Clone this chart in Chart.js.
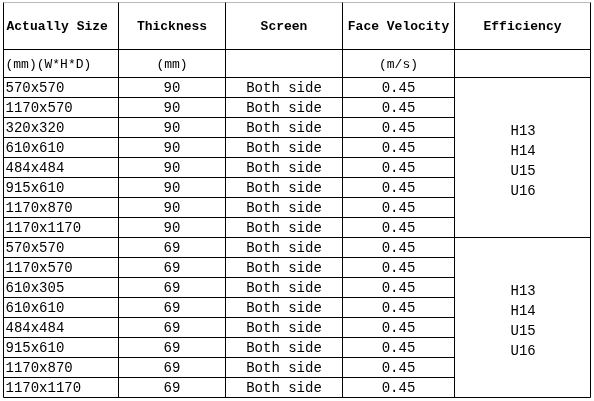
<!DOCTYPE html>
<html>
<head>
<script src="https://cdn.jsdelivr.net/npm/chart.js@4"></script>
<style>
  body { margin: 0; background: #fff; }
  #wrap { width: 594px; height: 401px; }
</style>
</head>
<body>
<div id="wrap"><canvas id="tbl"></canvas></div>
<script>
const headers = ["Actually Size", "Thickness", "Screen", "Face Velocity", "Efficiency"];
const units = ["(mm)(W*H*D)", "(mm)", "", "(m/s)", ""];
const sizes = ["570x570", "1170x570", "320x320", "610x610", "484x484", "915x610", "1170x870", "1170x1170",
  "570x570", "1170x570", "610x305", "610x610", "484x484", "915x610", "1170x870", "1170x1170"];
const thickness = [90, 90, 90, 90, 90, 90, 90, 90, 69, 69, 69, 69, 69, 69, 69, 69];
const screens = sizes.map(() => "Both side");
const velocity = sizes.map(() => "0.45");
const efficiency = ["H13", "H14", "U15", "U16"];

// layout in page pixels
const colX = [3, 118, 225, 342, 454, 590];
const rowY = [2, 49, 77];
for (let i = 1; i <= sizes.length; i++) rowY.push(77 + i * 20);

const tablePlugin = {
  id: "table",
  afterDraw(chart) {
    const ctx = chart.ctx, sx = chart.scales.x, sy = chart.scales.y;
    const X = v => Math.round(sx.getPixelForValue(v)) + 0.5;
    const Y = v => Math.round(sy.getPixelForValue(v)) + 0.5;
    ctx.save();
    ctx.strokeStyle = "#000";
    ctx.lineWidth = 1;
    const line = (x1, y1, x2, y2) => { ctx.beginPath(); ctx.moveTo(X(x1), Y(y1)); ctx.lineTo(X(x2), Y(y2)); ctx.stroke(); };
    // horizontal lines
    rowY.forEach((y, i) => {
      if (i === 0) return;
      const inGroup = i > 2 && i !== 10 && i < rowY.length - 1;
      line(colX[0], y, inGroup ? colX[4] : colX[5], y);
    });
    ctx.strokeStyle = "#bbb";
    line(colX[0], rowY[0], colX[5], rowY[0]);
    ctx.strokeStyle = "#000";
    colX.forEach(x => line(x, rowY[0], x, rowY[rowY.length - 1]));
    ctx.fillStyle = "#000";
    ctx.textBaseline = "middle";
    // header
    ctx.font = "bold 13px 'Liberation Mono'";
    ctx.textAlign = "center";
    headers.forEach((h, c) => {
      if (c === 0) { ctx.textAlign = "left"; ctx.fillText(h, X(colX[0] + 3), Y(26)); ctx.textAlign = "center"; }
      else ctx.fillText(h, (X(colX[c]) + X(colX[c + 1])) / 2, Y(26));
    });
    ctx.font = "13px 'Liberation Mono'";
    units.forEach((u, c) => {
      if (c === 0) { ctx.textAlign = "left"; ctx.fillText(u, X(colX[0] + 2), Y(64)); ctx.textAlign = "center"; }
      else ctx.fillText(u, (X(colX[c]) + X(colX[c + 1])) / 2, Y(64));
    });
    ctx.font = "14px 'Liberation Mono'";
    sizes.forEach((s, r) => {
      const yc = Y(rowY[r + 3] - 9);
      ctx.textAlign = "left";
      ctx.fillText(s, X(colX[0] + 2), yc);
      ctx.textAlign = "center";
      ctx.fillText(String(thickness[r]), (X(colX[1]) + X(colX[2])) / 2, yc);
      ctx.fillText(screens[r], (X(colX[2]) + X(colX[3])) / 2, yc);
      ctx.fillText(velocity[r], (X(colX[3]) + X(colX[4])) / 2, yc);
    });
    ctx.textAlign = "left";
    [128, 288].forEach(y0 => {
      efficiency.forEach((e, i) => ctx.fillText(e, X(510), Y(y0 + 3 + i * 20)));
    });
    ctx.restore();
  }
};

new Chart(document.getElementById("tbl"), {
  type: "scatter",
  data: { datasets: [{ data: [], pointRadius: 0 }] },
  options: {
    responsive: true,
    maintainAspectRatio: false,
    animation: false,
    layout: { padding: 0 },
    plugins: { legend: { display: false }, tooltip: { enabled: false } },
    scales: {
      x: { type: "linear", min: 0, max: 594, display: false },
      y: { type: "linear", min: 0, max: 401, reverse: true, display: false }
    }
  },
  plugins: [tablePlugin]
});
</script>
</body>
</html>
